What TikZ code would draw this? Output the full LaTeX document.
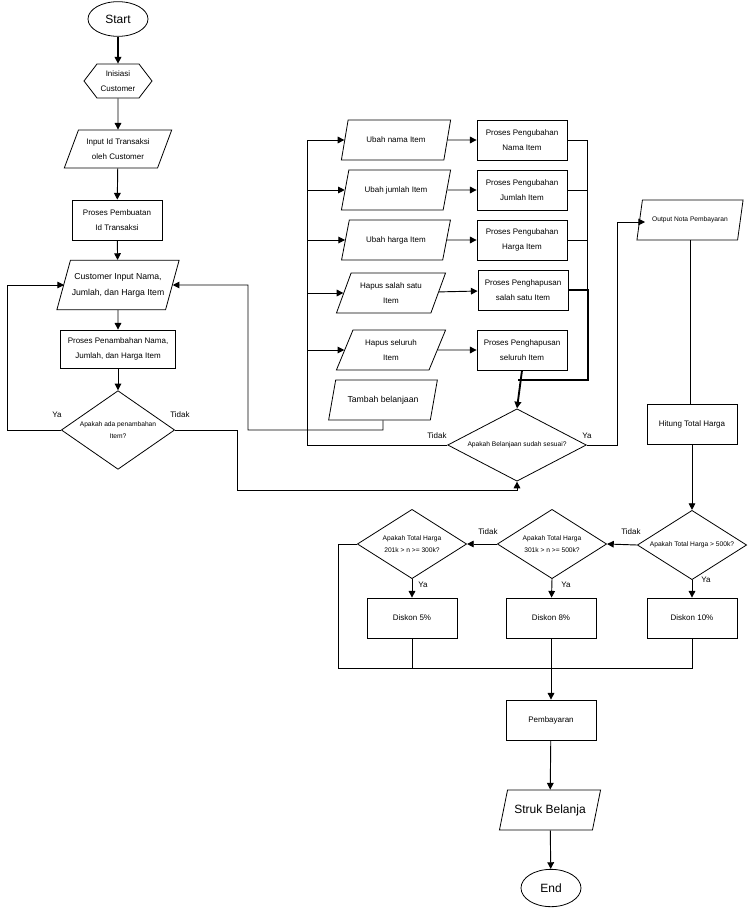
\documentclass[tikz,border=0pt]{standalone}
\usepackage{fontspec}
\setmainfont{Liberation Sans}
\usetikzlibrary{shapes.geometric,arrows.meta}
\begin{document}
\begin{tikzpicture}[x=0.75pt,y=-0.75pt,
  base/.style={draw,line width=0.6pt,align=center,font=\fontsize{6}{11}\selectfont,inner sep=1pt},
  box/.style={base,rectangle,minimum width=67.5pt,minimum height=30pt},
  para/.style={base,trapezium,trapezium left angle=63,trapezium right angle=117,trapezium stretches=true,minimum width=82pt,minimum height=30pt},
  dia/.style={base,diamond,aspect=1.6,font=\fontsize{5}{9}\selectfont},
  lbl/.style={font=\fontsize{6}{7}\selectfont,inner sep=1pt},
  ar/.style={-{Triangle[length=5pt,width=5pt]},line width=0.7pt},
  ln/.style={line width=0.7pt}]
\path[use as bounding box,fill=white] (0,0) rectangle (748,910);
% left column
\node[base,ellipse,minimum width=45pt,minimum height=26pt,font=\fontsize{9}{11}\selectfont] (start) at (118,19) {Start};
\node[base,draw=none,minimum width=51pt,minimum height=25.5pt] (ini) at (118,81) {Inisiasi\\Customer};
\draw[line width=0.6pt] (84,81)--(97,64)--(139,64)--(152,81)--(139,98)--(97,98)--cycle;
\node[para,minimum width=81pt,minimum height=28.5pt] (inid) at (118,149) {Input Id Transaksi\\oleh Customer};
\node[box] (pemb) at (117,220) {Proses Pembuatan\\Id Transaksi};
\node[para,minimum width=89pt,minimum height=37pt,font=\fontsize{6.5}{12}\selectfont] (cin) at (118,285) {Customer Input Nama,\\Jumlah, dan Harga Item};
\node[box,minimum width=86pt,minimum height=28.5pt] (pen) at (118,349) {Proses Penambahan Nama,\\Jumlah, dan Harga Item};
\node[dia,minimum width=85pt,minimum height=59pt] (d1) at (118,430) {Apakah ada penambahan\\Item?};
\draw[ar,line width=1pt] (start) -- (ini.north);
\draw[ar] (ini.south) -- (inid);
\draw[ar] (inid) -- (pemb);
\draw[ar] (pemb) -- (cin);
\draw[ar] (cin) -- (pen);
\draw[ar] (pen) -- (d1);
\draw[ar] (d1.west) -- (7,430) -- (7,285) -- (64,285);
\node[lbl] at (57,415) {Ya};
\node[lbl] at (180,415) {Tidak};
% right panel
\foreach \n/\y/\t in {p1/140/Ubah nama Item,p2/190/Ubah jumlah Item,p3/240/Ubah harga Item}
  \node[para] (\n) at (396,\y) {\t};
\node[para] (p4) at (391,293) {Hapus salah satu\\Item};
\node[para] (p5) at (391,350) {Hapus seluruh\\Item};
\node[para,font=\fontsize{6.5}{11}\selectfont] (p6) at (383,400) {Tambah belanjaan};
\node[box] (b1) at (522,140) {Proses Pengubahan\\Nama Item};
\node[box] (b2) at (522,190) {Proses Pengubahan\\Jumlah Item};
\node[box] (b3) at (522,240) {Proses Pengubahan\\Harga Item};
\node[box] (b4) at (523,290) {Proses Penghapusan\\salah satu Item};
\node[box] (b5) at (522,350) {Proses Penghapusan\\seluruh Item};
\node[dia,minimum width=104pt,minimum height=45pt] (d2) at (517,445) {Apakah Belanjaan sudah sesuai?};
\foreach \a/\b in {p1/b1,p2/b2,p3/b3,p4/b4,p5/b5} \draw[ar] (\a) -- (\b);
\draw[ln] (d2.west) -- (307,445) -- (307,140);
\foreach \n/\y in {p1/140,p2/190,p3/240,p4/293,p5/350} \draw[ar] (307,\y) -- (\n.west |- 0,\y);
\draw[ln] (b1.east) -- (587,140) -- (587,380);
\draw[ln] (b2.east) -- (587,190);
\draw[ln] (b3.east) -- (587,240);
\draw[line width=1.4pt] (b4.east) -- (588,290) -- (588,380) -- (518,380);
\draw[ar,line width=1.4pt] (b5.south) -- (d2.north);
\draw[ar] (p6.south) -- (383,430) -- (248,430) -- (248,285) -- (cin.east |- 0,285);
\draw[ar] (d1.east) -- (237,430) -- (237,490) -- (517,490) -- (d2.south);
\node[lbl] at (437,436) {Tidak};
\node[lbl] at (587,436) {Ya};
\node[para,minimum width=80pt,font=\fontsize{5}{9}\selectfont] (out) at (690,220) {Output Nota Pembayaran};
\draw[ar] (d2.east) -- (617,445) -- (617,222) -- (645,222);
\node[box] (hit) at (692,424) {Hitung Total Harga};
\draw[ln] (out.south -| 690,0) -- (690,404);
% discounts
\node[dia,minimum width=82pt,minimum height=52pt] (d3) at (692,545) {Apakah Total Harga > 500k?};
\node[dia,minimum width=82pt,minimum height=52pt] (d4) at (552,544) {Apakah Total Harga\\301k > n >= 500k?};
\node[dia,minimum width=82pt,minimum height=52pt] (d5) at (412,544) {Apakah Total Harga\\201k > n >= 300k?};
\draw[ar] (hit.south) -- (d3.north);
\draw[ar] (d3.west) -- (d4.east);
\draw[ar] (d4.west) -- (d5.east);
\node[lbl] at (631,532) {Tidak};
\node[lbl] at (488,532) {Tidak};
\node[box] (k10) at (692,618) {Diskon 10\%};
\node[box] (k8) at (551,618) {Diskon 8\%};
\node[box] (k5) at (412,618) {Diskon 5\%};
\draw[ar] (d3.south) -- (k10);
\draw[ar] (d4.south) -- (k8);
\draw[ar] (d5.south) -- (k5);
\node[lbl] at (706,580) {Ya};
\node[lbl] at (566,585) {Ya};
\node[lbl] at (423,585) {Ya};
\draw[ln] (d5.west) -- (338,544) -- (338,668) -- (692,668) -- (k10.south);
\draw[ln] (k5.south) -- (412,668);
\node[box] (pay) at (551,720) {Pembayaran};
\draw[ar] (k8.south) -- (pay.north);
\node[para,minimum width=76pt,font=\fontsize{9}{11}\selectfont] (struk) at (550,810) {Struk Belanja};
\node[base,ellipse,minimum width=45pt,minimum height=28pt,font=\fontsize{9}{11}\selectfont] (end) at (551,888) {End};
\draw[ar] (pay) -- (struk);
\draw[ar] (struk) -- (end);
\end{tikzpicture}
\end{document}
